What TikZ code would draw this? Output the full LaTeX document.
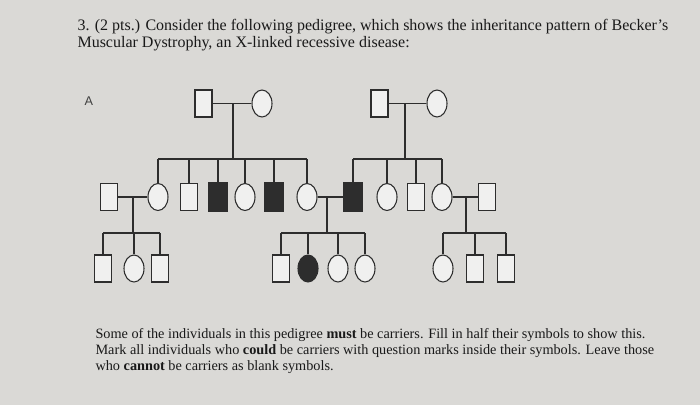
\documentclass[tikz,border=0pt]{standalone}
\usepackage{fontspec}
\setmainfont{Liberation Serif}
\newfontfamily\sansA{Liberation Sans}
\usetikzlibrary{shapes.geometric}
\definecolor{paper}{RGB}{218,217,214}
\definecolor{ink}{RGB}{45,45,45}
\begin{document}
\begin{tikzpicture}[x=0.75pt,y=-0.75pt,line width=0.8pt,
  male/.style={draw=ink,fill=white!60!paper,rectangle,minimum width=12.75pt,minimum height=20.25pt,inner sep=0pt},
  female/.style={draw=ink,fill=white!60!paper,ellipse,minimum width=15pt,minimum height=20.25pt,inner sep=0pt},
  ln/.style={draw=ink},
  txt/.style={anchor=west,inner sep=0pt,font=\fontsize{10.7pt}{12pt}\selectfont,text=black!90}]
\fill[paper] (0,0) rectangle (700,405);
\useasboundingbox (0,0) rectangle (700,405);
\node[txt,anchor=north west,align=left,font=\fontsize{12pt}{12.2pt}\selectfont] (title) at (77,19) {3. (2 pts.) Consider the following pedigree, which shows the inheritance pattern of Becker's\\Muscular Dystrophy, an X-linked recessive disease:};
\node[anchor=west,inner sep=0pt,font=\sansA\fontsize{9.5pt}{11pt}\selectfont,text=black!75] (lblA) at (84,101) {A};
% generation 1
\node[male] (g1a) at (203.5,103.5) {};
\node[female] (g1b) at (262,103.5) {};
\node[male] (g1c) at (379.5,103.5) {};
\node[female] (g1d) at (437,103.5) {};
% generation 2
\foreach \n/\x/\s in {p1/109/male,p2/158/female,p3/189/male,p4/218/male,p5/245/female,p6/274/male,p7/307/female,p8/353/male,p9/387/female,p10/416/male,p11/442/female,p12/487/male}
  \node[\s] (\n) at (\x,197) {};
\fill[ink] (p4.south west) rectangle (p4.north east);
\fill[ink] (p6.south west) rectangle (p6.north east);
\fill[ink] (p8.south west) rectangle (p8.north east);
\foreach \n in {p4,p6,p8} \draw[ink] (\n.south west) rectangle (\n.north east);
% generation 3
\foreach \n/\x/\s in {c1/103/male,c2/134/female,c3/160/male,c4/281/male,c5/308/female,c6/338/female,c7/365/female,c8/443/female,c9/475/male,c10/506/male}
  \node[\s] (\n) at (\x,268.5) {};
\fill[ink] (c5) ellipse (7.5pt and 10.1pt);
% couples
\coordinate (m1) at (233,103.5);
\coordinate (m2) at (405,103.5);
\coordinate (m3) at (133,197);
\coordinate (m4) at (327,197);
\coordinate (m5) at (466,197);
\draw[ln] (g1a) -- (g1b); \draw[ln] (g1c) -- (g1d);
\draw[ln] (p1) -- (p2); \draw[ln] (p7) -- (p8); \draw[ln] (p11) -- (p12);
% sibships
\coordinate (s1) at (233,159); \coordinate (s2) at (405,159);
\coordinate (s3) at (133,233); \coordinate (s4) at (327,233); \coordinate (s5) at (466,233);
\draw[ln] (m1) -- (s1); \draw[ln] (m2) -- (s2);
\draw[ln] (m3) -- (s3); \draw[ln] (m4) -- (s4); \draw[ln] (m5) -- (s5);
\draw[ln] (p2.north |- s1) -- (p7.north |- s1);
\foreach \n in {p2,p3,p4,p5,p6,p7} \draw[ln] (\n.north |- s1) -- (\n.north);
\draw[ln] (p8.north |- s2) -- (p11.north |- s2);
\foreach \n in {p8,p9,p10,p11} \draw[ln] (\n.north |- s2) -- (\n.north);
\draw[ln] (c1.north |- s3) -- (c3.north |- s3);
\foreach \n in {c1,c2,c3} \draw[ln] (\n.north |- s3) -- (\n.north);
\draw[ln] (c4.north |- s4) -- (c7.north |- s4);
\foreach \n in {c4,c5,c6,c7} \draw[ln] (\n.north |- s4) -- (\n.north);
\draw[ln] (c8.north |- s5) -- (c10.north |- s5);
\foreach \n in {c8,c9,c10} \draw[ln] (\n.north |- s5) -- (\n.north);
\node[txt,anchor=north west,align=left] (instr) at (95,328) {Some of the individuals in this pedigree \textbf{must} be carriers. Fill in half their symbols to show this.\\Mark all individuals who \textbf{could} be carriers with question marks inside their symbols. Leave those\\who \textbf{cannot} be carriers as blank symbols.};
\end{tikzpicture}
\end{document}
